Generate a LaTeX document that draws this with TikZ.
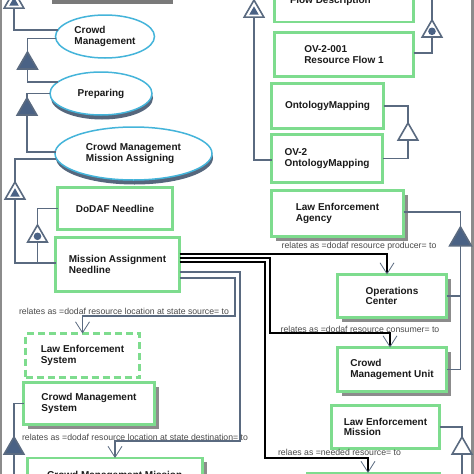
\documentclass[tikz,border=0pt]{standalone}
\usepackage{fontspec}
\setmainfont{Liberation Sans}
\usetikzlibrary{shapes.geometric,shadows,calc,arrows.meta}
\definecolor{lineg}{HTML}{5A6A80}
\definecolor{trifill}{HTML}{4A6285}
\definecolor{boxg}{HTML}{7EDC8E}
\definecolor{ellb}{HTML}{44B4DA}
\definecolor{shadowg}{HTML}{8C8C8C}
\definecolor{eshadow}{HTML}{56677D}
\definecolor{framec}{HTML}{8C8C8C}
\definecolor{bartop}{HTML}{7A7A7A}
\definecolor{labc}{HTML}{4A4A4A}
\definecolor{txt}{HTML}{1A1A1A}
\begin{document}
\begin{tikzpicture}[x=1pt,y=-1pt,
  boxn/.style={draw=boxg, line width=2.2pt, fill=white, inner sep=0pt, outer sep=0pt, align=left, text=txt, font=\bfseries\fontsize{10}{10.5}\selectfont},
  boxsh/.style={boxn, general shadow={fill=shadowg, shadow xshift=4pt, shadow yshift=-4pt}},
  elln/.style={ellipse, draw=ellb, line width=1.5pt, fill=white, inner sep=0pt, outer sep=0pt, align=left, text=txt, font=\bfseries\fontsize{10}{10.5}\selectfont},
  ellsh/.style={elln, general shadow={fill=eshadow, shadow xshift=1pt, shadow yshift=-4.5pt}},
  gtri/.style={regular polygon, regular polygon sides=3, minimum size=22.6pt, inner sep=0pt, outer sep=0pt, draw=lineg, line width=1.6pt, fill=white},
  gtrif/.style={gtri, fill=trifill},
  gen/.style={draw=lineg, line width=1.4pt},
  relb/.style={draw=black, line width=1.8pt, -{Straight Barb[length=11pt,width=14pt,color=lineg,line width=0.8pt]}},
  relg/.style={draw=lineg, line width=1.3pt, -{Straight Barb[length=11pt,width=14pt,color=lineg,line width=0.8pt]}},
  lab/.style={font=\fontsize{8.7}{9}\selectfont, text=labc, inner sep=0pt}
]
\useasboundingbox (0,0) rectangle (474,474);
\clip (0,0) rectangle (474,474);
\fill[white] (0,0) rectangle (474,474);

% frame and top bar
\fill[bartop] (52,-10) rectangle (173,4);
\draw[framec, line width=2.5pt] (1.2,-5) -- (1.2,480);
\draw[framec, line width=2.5pt] (472.6,-5) -- (472.6,480);

% ellipses
\node[elln, minimum width=99pt, minimum height=43pt] (e1) at (105,36.5) {Crowd\\Management};
\node[ellsh, minimum width=102pt, minimum height=43pt] (e2) at (101,93.5) {Preparing};
\node[ellsh, minimum width=157pt, minimum height=53pt] (e3) at (133.5,153.5) {Crowd Management\\Mission Assigning};

% left boxes
\node[boxn, minimum width=115pt, minimum height=42pt] (dodaf) at (115,208.5) {DoDAF Needline};
\node[boxn, minimum width=124pt, minimum height=54pt] (man) at (117.5,264.5) {Mission Assignment\\Needline};
\node[boxn, dash pattern=on 7pt off 4pt, minimum width=114pt, minimum height=44pt] (les) at (82.5,355.5) {Law Enforcement\\System};
\node[boxsh, minimum width=131pt, minimum height=42pt] (cms) at (89,403.5) {Crowd Management\\System};
\node[boxsh, minimum width=175pt, minimum height=52pt] (bl) at (115,484) {};
\node[anchor=base west, inner sep=0pt, text=txt, font=\bfseries\fontsize{10}{10.5}\selectfont] (blt) at (47,478) {Crowd Management Mission};

% right boxes
\node[boxn, minimum width=139pt, minimum height=52pt] (fd) at (344,-4) {};
\node[anchor=base west, inner sep=0pt, text=txt, font=\bfseries\fontsize{10}{10.5}\selectfont] (fdt) at (290,3.5) {Flow Description};
\node[boxn, minimum width=139pt, minimum height=44pt] (ov2001) at (344,54.5) {OV-2-001\\Resource Flow 1};
\node[boxn, minimum width=112pt, minimum height=45pt] (om) at (327.5,106) {OntologyMapping};
\node[boxn, minimum width=111pt, minimum height=48pt] (ov2om) at (327,158.5) {OV-2\\OntologyMapping};
\node[boxsh, minimum width=132pt, minimum height=46pt] (lea) at (337.5,213.5) {Law Enforcement\\Agency};
\node[boxsh, minimum width=109pt, minimum height=43pt] (oc) at (392,296) {Operations\\Center};
\node[boxsh, minimum width=109pt, minimum height=44pt] (cmu) at (392,369.5) {Crowd\\Management Unit};
\node[boxn, minimum width=108pt, minimum height=43pt] (lem) at (385.5,427) {Law Enforcement\\Mission};
\node[boxn, minimum width=132pt, minimum height=38pt] (br) at (373.5,492) {};

% generalization triangles
\node[gtri] (t1) at (14,2.4) {};
\node[gtrif] (t2) at (27.5,63.3) {};
\node[gtrif] (t3) at (27,109.3) {};
\node[gtri] (t4) at (15,193.3) {};
\node[gtri] (t5) at (37.5,236.3) {};
\node[gtri] (t6) at (408,134.3) {};
\node[gtri] (t7) at (254,11.4) {};
\node[gtri] (t8) at (432,31.3) {};
\node[gtrif, minimum size=25pt] (t9) at (460.5,239.5) {};
\node[gtri] (t10) at (462,448.3) {};
\node[gtrif] (t11) at (14,448.3) {};
\foreach \t in {t1,t4,t7}
  \fill[trifill] ([yshift=-0.5pt]\t.center) +(90:5.5pt) -- +(210:5.5pt) -- +(330:5.5pt) -- cycle;
\foreach \t in {t5,t8}
  \fill[trifill] (\t.center) circle (3.8pt);

% free ends
\coordinate (t8top) at (432,-6);
\coordinate (t10bot) at (462,480);
\coordinate (t11bot) at (14,480);

% generalization connectors
\draw[gen] (t1.south) |- ($(e1.west)+(2.5,-6.5)$);
\draw[gen] ($(e1.west)+(0,2)$) -| (t2.north);
\draw[gen] (t2.south) |- ($(e2.west)+(8,-11.5)$);
\draw[gen] (e2.west) -| (t3.north);
\draw[gen] (t3.south) |- ($(e3.west)+(0.5,-1.5)$);
\draw[gen] ($(e3.west)+(1,5.5)$) -| (t4.north);
\draw[gen] (t4.south) |- ($(man.west)+(0,-1.5)$);
\draw[gen] (dodaf.west) -| (t5.north);
\draw[gen] (t5.south) |- ($(man.west)+(0,-1.5)$);
\draw[gen] (om.east) -| (t6.north);
\draw[gen] (t6.south) |- (ov2om.east);
\draw[gen] ($(ov2om.west)+(0,1.5)$) -| (t7.south);
\draw[gen] ($(ov2001.east)+(0,-1.5)$) -| (t8.south);
\draw[gen] (t8.north) -- (t8top);
\draw[gen] ($(lea.east)+(0,-1.5)$) -| (t9.north);
\draw[gen] (t9.south) |- (cmu.east);
\draw[gen] (oc.east) -- (oc.east -| t9.south);
\draw[gen] (lem.east) -| (t10.north);
\draw[gen] (t10.south) -- (t10bot);
\draw[gen] (cms.west) -| (t11.north);
\draw[gen] (t11.south) -- (t11bot);

% relation connectors
\coordinate (cbend) at (270,333);
\coordinate (nbend) at (265,458);
\coordinate (sbend) at (235,316);
\coordinate (dbend) at (240,441);
\draw[relg] ($(man.east)+(0,13.5)$) -| (sbend) -| (les.north);
\draw[relg] ($(man.east)+(0,7.5)$) -| (dbend) -| (bl.north);
\draw[relb] ($(man.east)+(0,-10.5)$) -| ($(oc.north)+(-5,0)$);
\draw[relb] ($(man.east)+(0,-6.5)$) -| (cbend) -| ($(cmu.north)+(-2,0)$);
\draw[relb] ($(man.east)+(0,-2.5)$) -| (nbend) -| ($(br.north)+(-5.5,0)$);

% labels
\node[lab] (lprod) at (359,246) {relates as =dodaf resource producer= to};
\node[lab] (lcons) at (360,329) {relates as =dodaf resource consumer= to};
\node[lab] (lneed) at (339.5,452) {relaes as =needed resource= to};
\node[lab] (lsrc) at (124,311) {relates as =dodaf resource location at state source= to};
\node[lab] (ldst) at (135,437) {relates as =dodaf resource location at state destination= to};
\end{tikzpicture}
\end{document}
